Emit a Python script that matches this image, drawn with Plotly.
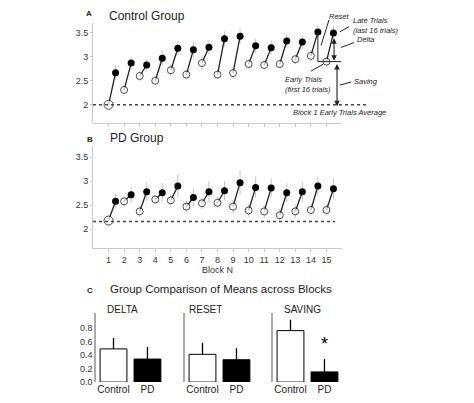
import plotly.graph_objs as go

# ---- data ----
blocks = list(range(1, 16))
late_offset = 0.45  # late-trial marker drawn just right of the block tick

ctrl_early = [2.00, 2.31, 2.60, 2.50, 2.72, 2.63, 2.87, 2.63, 2.66, 2.85, 2.83, 2.85, 2.95, 3.02, 2.90]
ctrl_late = [2.67, 2.87, 2.83, 2.97, 3.18, 3.15, 3.20, 3.38, 3.43, 3.23, 3.19, 3.33, 3.31, 3.52, 3.50]
ctrl_early_err = [0.06, 0.10, 0.10, 0.08, 0.12, 0.10, 0.14, 0.10, 0.12, 0.10, 0.10, 0.10, 0.10, 0.12, 0.10]
ctrl_late_err = [0.15, 0.13, 0.12, 0.15, 0.15, 0.17, 0.15, 0.15, 0.16, 0.15, 0.15, 0.14, 0.15, 0.14, 0.14]
ctrl_baseline = 2.0

pd_early = [2.18, 2.58, 2.37, 2.62, 2.60, 2.47, 2.54, 2.55, 2.47, 2.39, 2.37, 2.29, 2.37, 2.40, 2.40]
pd_late = [2.58, 2.72, 2.78, 2.76, 2.90, 2.66, 2.78, 2.80, 2.97, 2.87, 2.86, 2.76, 2.78, 2.90, 2.84]
pd_early_err = [0.10, 0.12, 0.12, 0.10, 0.12, 0.12, 0.12, 0.12, 0.14, 0.13, 0.14, 0.13, 0.14, 0.12, 0.12]
pd_late_err = [0.15, 0.17, 0.20, 0.20, 0.24, 0.18, 0.22, 0.20, 0.26, 0.22, 0.20, 0.20, 0.22, 0.20, 0.22]
pd_baseline = 2.16

groups = ['Control', 'PD']
measures = ['DELTA', 'RESET', 'SAVING']
means = {'DELTA': [0.49, 0.34], 'RESET': [0.41, 0.33], 'SAVING': [0.76, 0.15]}
sems = {'DELTA': [0.16, 0.18], 'RESET': [0.17, 0.17], 'SAVING': [0.16, 0.19]}

FONT = 'Liberation Sans, Arial, sans-serif'
OFF = 8  # the page body adds an 8px margin, so work in window pixels minus that
W, H = 474 - 2 * OFF, 403 - 2 * OFF
GRID = '#c8c8c8'
DA, DB, DC = 1, 3, 4  # small vertical nudges per panel


def px(x):
    return (x - OFF) / W


def py(y):
    return 1 - (y - OFF) / H


def block_traces(fig, early, late, e_err, l_err, xa, ya):
    '''pairs of early (open) and late (filled) means per block'''
    late_x = [b + late_offset for b in blocks]
    # gray error bars first so the markers sit on top
    for xs, ys, es in [(blocks, early, e_err), (late_x, late, l_err)]:
        fig.add_trace(go.Scatter(x=xs, y=ys, mode='markers', marker=dict(size=1, color='rgba(0,0,0,0)'),
                                 error_y=dict(type='data', array=es, color='#c4c4c4', thickness=1, width=0),
                                 xaxis=xa, yaxis=ya, showlegend=False, hoverinfo='skip'))
    lx, ly = [], []
    for b, lb, e, l in zip(blocks, late_x, early, late):
        lx += [b, lb, None]
        ly += [e, l, None]
    fig.add_trace(go.Scatter(x=lx, y=ly, mode='lines', line=dict(color='#222', width=1.3),
                             xaxis=xa, yaxis=ya, showlegend=False))
    sizes = [9] + [7] * (len(blocks) - 1)
    fig.add_trace(go.Scatter(x=blocks, y=early, mode='markers',
                             marker=dict(size=sizes, color='white', line=dict(color='black', width=1)),
                             xaxis=xa, yaxis=ya, showlegend=False))
    fig.add_trace(go.Scatter(x=late_x, y=late, mode='markers',
                             marker=dict(size=7, color='black'),
                             xaxis=xa, yaxis=ya, showlegend=False))


fig = go.Figure()
block_traces(fig, ctrl_early, ctrl_late, ctrl_early_err, ctrl_late_err, 'x', 'y')
block_traces(fig, pd_early, pd_late, pd_early_err, pd_late_err, 'x2', 'y2')

# panel C bars
for i, m in enumerate(measures):
    n = str(i + 3)
    fig.add_trace(go.Bar(x=groups, y=means[m], width=0.79,
                         marker=dict(color=['white', 'black'], line=dict(color='black', width=1)),
                         error_y=dict(type='data', array=sems[m], arrayminus=[0, 0], color='black',
                                      thickness=1.3, width=0),
                         xaxis='x' + n, yaxis='y' + n, showlegend=False))

tickfont = dict(family=FONT, size=9, color='#333')
blk_x = dict(tickvals=blocks, showline=True, linecolor=GRID, linewidth=1,
             ticks='outside', ticklen=3, tickcolor=GRID, showgrid=False, zeroline=False, tickfont=tickfont)
blk_y = dict(range=[1.61, 3.71], tickvals=[2, 2.5, 3, 3.5], showline=True, linecolor=GRID, linewidth=1,
             ticks='outside', ticklen=2, tickcolor=GRID, showgrid=False, zeroline=False, tickfont=tickfont)

# panel A gets extra room on the right for the baseline and its labels
blk_px = (342 - 93) / 16.0
a_max = 17.8
layout = dict(
    width=W, height=H, margin=dict(l=0, r=0, t=0, b=0),
    plot_bgcolor='white', paper_bgcolor='white', font=dict(family=FONT, color='#222'),
    xaxis=dict(blk_x, range=[0, a_max], domain=[px(93), px(93 + a_max * blk_px)], anchor='y',
               showticklabels=False, showline=False),
    yaxis=dict(blk_y, domain=[py(124 + DA), py(22 + DA)], anchor='x'),
    xaxis2=dict(blk_x, range=[0, 16], domain=[px(93), px(342)], anchor='y2',
                title=dict(text='Block N', font=dict(family=FONT, size=9, color='#333'), standoff=2)),
    yaxis2=dict(blk_y, range=[1.61, 3.73], domain=[py(248 + DB), py(145 + DB)], anchor='x2'),
)
for i in range(3):
    n = str(i + 3)
    left = [96, 185, 273][i]
    layout['xaxis' + n] = dict(domain=[px(left), px(left + 80)], anchor='y' + n, range=[-0.515, 1.84],
                               showline=False, ticks='', showgrid=False, zeroline=False,
                               tickfont=dict(family=FONT, size=10, color='#222'))
    layout['yaxis' + n] = dict(domain=[py(383 + DC), py(313 + DC)], anchor='x' + n, range=[0, 1.02],
                               tickvals=[0, 0.2, 0.4, 0.6, 0.8], tickformat='.1f',
                               showticklabels=(i == 0), showline=True, linecolor='#aaa', linewidth=1.5,
                               ticks='', showgrid=False, zeroline=False, tickfont=tickfont)
fig.update_layout(**layout)

# bottom axis line of panel A only under the blocks
fig.add_shape(type='line', xref='x', yref='y domain', x0=0, x1=16, y0=0, y1=0,
              line=dict(color=GRID, width=1))

# baselines (block 1 early-trial average)
fig.add_shape(type='line', xref='x', yref='y', x0=0, x1=17.67, y0=ctrl_baseline, y1=ctrl_baseline,
              line=dict(color='#444', width=1.5, dash='3px,3px'))
fig.add_shape(type='line', xref='x2', yref='y2', x0=0, x1=15.55, y0=pd_baseline, y1=pd_baseline,
              line=dict(color='#444', width=1.5, dash='3px,3px'))

# reset bracket in panel A
last = blocks[-1]
for x0, y0, x1, y1 in [(last - 1 + late_offset, ctrl_late[-2], last - 1 + late_offset, ctrl_early[-1]),
                       (last - 1 + late_offset, ctrl_early[-1], 15.95, ctrl_early[-1])]:
    fig.add_shape(type='line', xref='x', yref='y', x0=x0, y0=y0, x1=x1, y1=y1,
                  line=dict(color='#222', width=1))

# pointer lines from the labels (window pixels)
pointers = [
    (329, 19, 321, 45),   # Reset
    (349, 26, 340, 31),   # Late trials
    (354, 42, 341, 47),   # Delta
    (351, 82, 340, 85),   # Saving
    (311, 71, 323, 64),   # Early trials
]
for x0, y0, x1, y1 in pointers:
    fig.add_shape(type='line', xref='paper', yref='paper', x0=px(x0), y0=py(y0 + DA),
                  x1=px(x1), y1=py(y1 + DA), line=dict(color='#222', width=1))

# double arrows: delta and saving
for xa, y0, y1 in [(last + late_offset + 0.04, ctrl_late[-1] - 0.08, ctrl_early[-1] + 0.02),
                   (15.68, ctrl_early[-1] - 0.02, ctrl_baseline - 0.03)]:
    fig.add_annotation(x=xa, y=y1, ax=xa, ay=y0, xref='x', yref='y', axref='x', ayref='y', text='',
                       showarrow=True, arrowhead=2, arrowside='end+start', arrowsize=1, arrowwidth=1.1,
                       arrowcolor='#222')

ital = dict(family=FONT, size=7.5, color='#222')
notes = [
    ('<i>Reset</i>', 339, 16, 'center'),
    ('<i>Late Trials<br>(last 16 trials)</i>', 351, 25, 'left'),
    ('<i>Delta</i>', 355, 39, 'left'),
    ('<i>Saving</i>', 352, 81, 'left'),
    ('<i>Early Trials<br>(first 16 trials)</i>', 283, 84, 'left'),
    ('<i>Block 1 Early Trials Average</i>', 291, 113, 'left'),
]
for t, x, y, anc in notes:
    fig.add_annotation(x=px(x), y=py(y + DA), xref='paper', yref='paper', text=t, showarrow=False,
                       xanchor=anc, yanchor='middle', align=anc, font=ital)

# panel letters and titles (top row anchored at the top edge so it is not cut)
fig.add_annotation(x=px(85), y=1, xref='paper', yref='paper', text='<b>A</b>', showarrow=False,
                   xanchor='left', yanchor='top', borderpad=0, font=dict(family=FONT, size=8, color='#222'))
fig.add_annotation(x=px(108), y=1, xref='paper', yref='paper', text='Control Group', showarrow=False,
                   xanchor='left', yanchor='top', borderpad=0, font=dict(family=FONT, size=12, color='#222'))
heads = [
    ('<b>B</b>', 85, 138 + DB, 8), ('PD Group', 108, 137 + DB, 12),
    ('<b>C</b>', 85, 290 + DC, 8), ('Group Comparison of Means across Blocks', 108, 289 + DC, 11.5),
]
for t, x, y, s in heads:
    fig.add_annotation(x=px(x), y=py(y), xref='paper', yref='paper', text=t, showarrow=False,
                       xanchor='left', yanchor='middle', font=dict(family=FONT, size=s, color='#222'))
for m, x in zip(measures, [123, 205, 302]):
    fig.add_annotation(x=px(x), y=py(309 + DC), xref='paper', yref='paper', text=m, showarrow=False,
                       xanchor='center', yanchor='middle', font=dict(family=FONT, size=10, color='#222'))

# significance star
fig.add_annotation(x='PD', y=0.56, xref='x5', yref='y5', text='*', showarrow=False,
                   font=dict(family=FONT, size=18, color='black'))

fig.write_html("out.html")
